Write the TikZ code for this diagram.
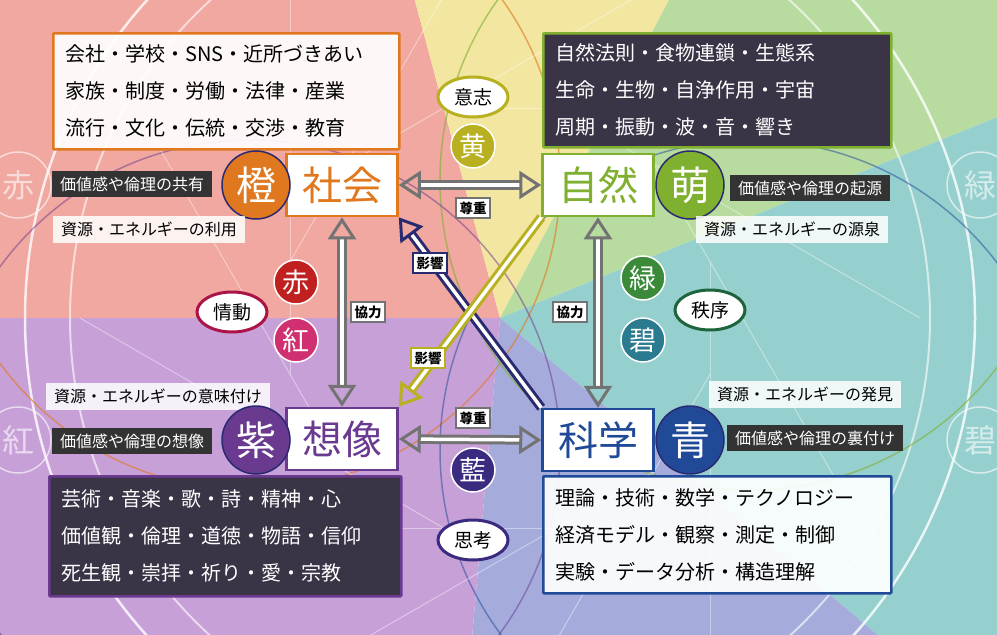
\documentclass[tikz,border=0pt]{standalone}
\usepackage{fontspec}
\setmainfont{Noto Sans CJK JP}
\usetikzlibrary{arrows.meta,shapes.geometric}
\definecolor{cOr}{HTML}{E07820}
\definecolor{cGr}{HTML}{80B030}
\definecolor{cPu}{HTML}{6A3A90}
\definecolor{cBl}{HTML}{204A98}
\definecolor{cDk}{HTML}{3A3446}
\definecolor{cNv}{HTML}{2A2A70}
\definecolor{cOl}{HTML}{B8B020}
\tikzset{
 every node/.style={inner sep=0pt},
 txtbox/.style={draw,line width=2.5pt,rounded corners=1pt,inner xsep=12pt,inner ysep=8pt,align=left,font=\fontsize{20}{37}\selectfont},
 namebox/.style={draw,line width=2.5pt,fill=white,minimum width=111pt,minimum height=62pt,font=\fontsize{40}{40}\selectfont},
 bigc/.style={circle,draw=cNv,line width=1.5pt,minimum size=68pt,text=white,font=\fontsize{40}{40}\selectfont},
 dlab/.style={fill=black!80,text=white,inner xsep=8pt,minimum height=26pt,font=\fontsize{16}{16}\selectfont},
 wlab/.style={fill=white,fill opacity=0.85,text opacity=1,inner xsep=8pt,minimum height=27pt,font=\fontsize{16}{16}\selectfont},
 smc/.style={circle,draw=white,line width=1.5pt,minimum size=44pt,text=white,font=\fontsize{27}{27}\selectfont},
 ell/.style={ellipse,draw,line width=3pt,fill=white,minimum width=70pt,minimum height=40pt,font=\fontsize{19}{19}\selectfont},
 tag/.style={draw,line width=2pt,fill=white,inner sep=3.5pt,font=\fontsize{13.5}{14}\selectfont\bfseries},
 tipo/.tip={Triangle[open,length=22pt,width=28pt,line width=3pt]},
 garr/.style={draw=black!55,line width=3pt,double=white,double distance=3.5pt,tipo-tipo},
}
\begin{document}
\begin{tikzpicture}[x=1pt,y=1pt]
\useasboundingbox (0,0) rectangle (997,-635);
\clip (0,0) rectangle (997,-635);
\coordinate (C) at (500,-318);
\fill[fill={rgb,255:red,240;green,168;blue,160}] (C) -- ++(105:900) arc(105:180:900) -- cycle;
\fill[fill={rgb,255:red,242;green,230;blue,160}] (C) -- ++(62:900) arc(62:105:900) -- cycle;
\fill[fill={rgb,255:red,184;green,220;blue,160}] (C) -- ++(22:900) arc(22:62:900) -- cycle;
\fill[fill={rgb,255:red,150;green,208;blue,206}] (C) -- ++(-40:900) arc(-40:22:900) -- cycle;
\fill[fill={rgb,255:red,165;green,172;blue,220}] (C) -- ++(-95:900) arc(-95:-40:900) -- cycle;
\fill[fill={rgb,255:red,200;green,160;blue,216}] (C) -- ++(180:900) arc(180:265:900) -- cycle;
\draw[white,line width=2.5pt,opacity=0.8] (C) circle (475);
\draw[white,line width=2pt,opacity=0.6] (C) circle (430);
\draw[cOr,line width=1.5pt,opacity=0.6] (250,-180) circle (310);
\draw[cGr,line width=1.5pt,opacity=0.6] (750,-180) circle (310);
\draw[cPu,line width=1.5pt,opacity=0.5] (250,-450) circle (310);
\draw[cBl,line width=1.5pt,opacity=0.5] (750,-450) circle (310);
\foreach \a in {0,30,...,330}{\draw[white,opacity=0.4,line width=1pt] (C) ++(\a:420) -- ++(\a+150:420);}
\foreach \p/\k in {{(18,-185)}/赤,{(18,-440)}/紅,{(980,-185)}/緑,{(980,-440)}/碧}{
 \node[circle,draw=white,line width=1.5pt,minimum size=66pt,text=white,opacity=0.6,font=\fontsize{32}{32}\selectfont] at \p {\k};}

\node[txtbox,draw=cOr,fill=white,fill opacity=0.92,text opacity=1,anchor=north west,text width=322pt,minimum height=116pt] (soc) at (52,-32) {会社・学校・SNS・近所づきあい\\家族・制度・労働・法律・産業\\流行・文化・伝統・交渉・教育};
\node[namebox,draw=cOr,text=cOr] (sha) at (342,-185) {社会};
\node[dlab] (l1) at (132,-184) {価値感や倫理の共有};
\node[bigc,fill=cOr] (c1) at (256,-185) {橙};
\node[wlab] (l2) at (149,-229) {資源・エネルギーの利用};

\node[txtbox,draw=cGr,fill=cDk,text=white,anchor=north west,text width=324pt,minimum height=114pt] (nat) at (542,-32) {自然法則・食物連鎖・生態系\\生命・生物・自浄作用・宇宙\\周期・振動・波・音・響き};
\node[namebox,draw=cGr,text=cGr] (shi) at (598,-185) {自然};
\node[dlab] (l3) at (810,-188) {価値感や倫理の起源};
\node[bigc,fill=cGr] (c2) at (690,-185) {萌};
\node[wlab] (l4) at (792,-229) {資源・エネルギーの源泉};

\node[txtbox,draw=cPu,fill=cDk,text=white,anchor=north west,text width=328pt,minimum height=120pt] (ima) at (48,-475) {芸術・音楽・歌・詩・精神・心\\価値観・倫理・道徳・物語・信仰\\死生観・崇拝・祈り・愛・宗教};
\node[namebox,draw=cPu,text=cPu] (sou) at (342,-439) {想像};
\node[wlab] (l5) at (158,-396) {資源・エネルギーの意味付け};
\node[dlab] (l6) at (132,-441) {価値感や倫理の想像};
\node[bigc,fill=cPu] (c3) at (256,-440) {紫};

\node[txtbox,draw=cBl,fill=white,fill opacity=0.92,text opacity=1,anchor=north west,text width=324pt,minimum height=117pt] (sci) at (542,-475) {理論・技術・数学・テクノロジー\\経済モデル・観察・測定・制御\\実験・データ分析・構造理解};
\node[namebox,draw=cBl,text=cBl] (kag) at (598,-440) {科学};
\node[wlab] (l7) at (805,-394) {資源・エネルギーの発見};
\node[dlab] (l8) at (815,-438) {価値感や倫理の裏付け};
\node[bigc,fill=cBl] (c4) at (690,-440) {青};

\draw[garr] (sha.east) -- (shi.west);
\draw[garr] (sou.east) -- (kag.west);
\draw[garr] (sha.south) -- (sou.north);
\draw[garr] (shi.south) -- (kag.north);
\draw[draw=cNv,line width=3pt,double=white,double distance=3.5pt,-tipo] (kag.north west) -- (sha.south east);
\draw[draw=cOl,line width=3pt,double=white,double distance=3.5pt,-tipo] (shi.south west) -- (sou.north east);
\node[tag,draw=black!55] (t1) at (473,-208) {尊重};
\node[tag,draw=black!55] (t2) at (473,-418) {尊重};
\node[tag,draw=black!55] (t3) at (368,-312) {協力};
\node[tag,draw=black!55] (t4) at (570,-312) {協力};
\node[tag,draw=cNv] (t5) at (430,-263) {影響};
\node[tag,draw=cOl] (t6) at (428,-358) {影響};

\node[ell,draw=cOl] (e1) at (473,-97) {意志};
\node[smc,fill=cOl] (s1) at (473,-146) {黄};
\node[smc,fill={rgb,255:red,192;green,32;blue,32}] (s2) at (296,-282) {赤};
\node[smc,fill={rgb,255:red,208;green,48;blue,112}] (s3) at (296,-340) {紅};
\node[ell,draw={rgb,255:red,170;green,20;blue,70}] (e2) at (232,-312) {情動};
\node[smc,fill={rgb,255:red,58;green,138;blue,58}] (s4) at (643,-278) {緑};
\node[smc,fill={rgb,255:red,42;green,122;blue,144}] (s5) at (643,-340) {碧};
\node[ell,draw={rgb,255:red,30;green,100;blue,60}] (e3) at (710,-310) {秩序};
\node[smc,fill={rgb,255:red,58;green,42;blue,128}] (s6) at (473,-470) {藍};
\node[ell,draw={rgb,255:red,58;green,42;blue,128}] (e4) at (473,-540) {思考};
\end{tikzpicture}
\end{document}
